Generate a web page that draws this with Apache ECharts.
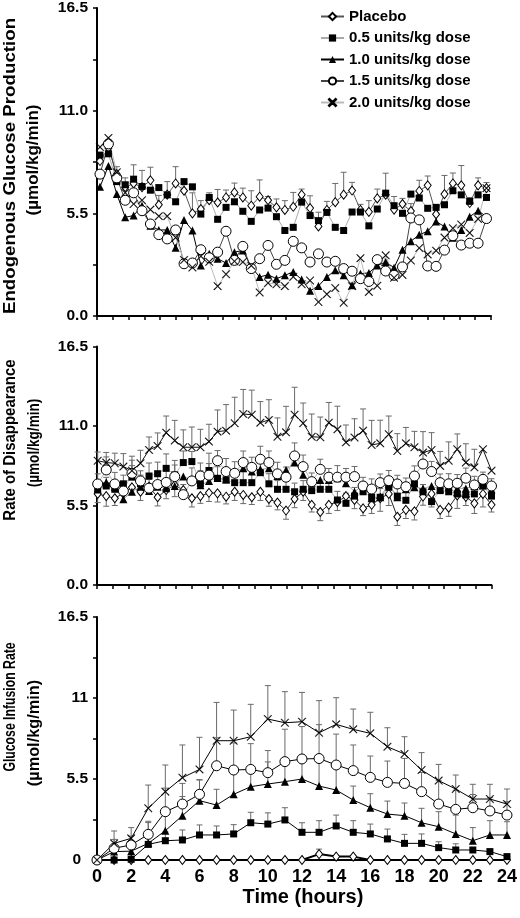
<!DOCTYPE html>
<html><head><meta charset="utf-8">
<script src="https://cdn.jsdelivr.net/npm/echarts@6/dist/echarts.min.js"></script>
<style>html,body{margin:0;padding:0;background:#fff}#c{width:520px;height:918px}</style>
</head><body><div id="c"></div>
<script>
// ---------- data ----------
const seriesNames = ['Placebo','0.5 units/kg dose','1.0 units/kg dose','1.5 units/kg dose','2.0 units/kg dose'];
const tHalf = [0,0.5,1,1.5,2,2.5,3,3.5,4,4.5,5,5.5,6,6.5,7,7.5,8,8.5,9,9.5,10,10.5,11,11.5,12,12.5,13,13.5,14,14.5,15,15.5,16,16.5,17,17.5,18,18.5,19,19.5,20,20.5,21,21.5,22,22.5,23];
const tHour = [0,1,2,3,4,5,6,7,8,9,10,11,12,13,14,15,16,17,18,19,20,21,22,23,24];
const yLabelsTop = ['0.0','5.5','11.0','16.5'];
const yLabelsBottom = ['0','5.5','11','16.5'];
const xLabelsBottom = ['0','','2','','4','','6','','8','','10','','12','','14','','16','','18','','20','','22','','24'];

// Endogenous glucose production
const egpPlacebo = [8.3,9.0,7.6,6.9,7.1,6.9,7.27,5.96,6.5,7.1,6.71,5.5,5.73,6.2,6.08,6.35,6.62,6.35,5.91,6.39,6.2,5.82,5.68,5.85,6.5,5.78,4.8,5.68,6.1,6.5,6.72,5.68,5.58,6.3,6.5,5.7,6.0,5.62,6.7,7.0,5.45,6.53,7.1,7.0,6.05,7.0,6.85];
const egpPlaceboErr = [0.3,0.3,0.4,0.5,1.0,0.9,0.7,0.5,0.7,0.9,0.5,1.1,0.45,0.4,0.7,0.4,0.5,0.5,0.8,0.9,0.2,0.45,0.5,0.77,0.3,0.66,0.76,0.46,1.0,1.2,0.44,0.3,0.6,0.5,1.15,0.7,0.3,0.4,0.57,0.5,0.3,1.0,0.56,1.06,0.3,0.4,0.3];
const egp05 = [8.62,8.69,7.20,7.03,7.33,6.94,6.74,6.88,6.49,6.12,7.20,6.92,5.46,6.35,5.18,5.82,6.12,5.61,5.07,5.68,5.78,5.32,4.58,4.75,6.10,5.38,5.11,5.55,4.75,4.58,5.57,5.57,4.83,5.73,6.58,5.91,5.50,6.53,6.32,5.77,5.82,5.96,6.71,6.49,6.14,6.49,6.35];
const egp10 = [6.92,8.04,6.53,5.29,5.38,5.91,4.84,4.61,4.61,3.65,5.14,4.58,2.71,3.33,3.07,2.84,3.42,3.51,2.63,2.09,2.21,2.0,2.18,2.36,1.95,1.35,1.61,2.09,2.45,2.18,1.65,2.27,2.31,2.71,2.89,2.59,3.55,4.01,4.35,4.54,5.06,4.79,4.19,4.61,5.32,5.64,5.32];
const egp15 = [7.6,9.22,7.4,6.2,6.6,5.64,4.93,4.36,4.13,4.61,2.80,2.84,3.55,3.12,3.42,4.54,2.98,3.73,2.54,3.07,3.78,2.77,2.98,4.0,3.65,2.89,3.33,2.89,2.93,2.54,2.4,2.0,1.85,3.02,2.41,2.18,2.63,5.25,5.15,2.68,2.66,3.53,4.3,3.8,3.9,3.9,5.22];
const egp20 = [9.05,9.54,7.7,6.6,6.0,6.2,5.7,5.35,5.35,4.2,3.0,2.6,3.2,2.9,1.6,2.24,2.93,2.89,2.7,1.26,1.77,1.70,1.60,2.1,1.70,1.9,0.75,1.17,1.5,0.71,1.6,3.1,1.29,1.62,3.25,2.05,2.2,2.97,3.64,3.3,3.5,4.2,4.7,4.9,4.45,5.2,6.85];

// Rate of disappearance
const rdPlacebo = [6.30,6.15,6.0,6.34,6.76,6.45,6.8,6.07,6.57,6.91,6.57,6.0,6.15,6.38,6.34,6.11,6.45,6.23,6.07,6.45,5.95,5.7,5.15,5.95,6.45,5.55,5.05,5.55,5.75,6.15,5.88,5.3,5.55,6.0,6.3,4.72,5.2,5.1,6.12,6.3,5.2,5.35,6.2,6.1,5.65,6.3,5.55];
const rdPlaceboErr = [0.6,0.7,0.5,0.6,0.5,0.6,0.5,0.6,0.6,0.8,0.5,0.6,0.5,0.6,0.6,0.5,0.6,0.6,0.5,0.6,0.5,0.5,0.6,0.6,0.6,0.5,0.6,0.6,0.6,0.6,0.6,0.5,0.6,0.9,0.8,0.6,0.6,0.6,0.6,0.9,0.6,0.6,0.9,0.6,0.7,0.9,0.5];
const rd05 = [6.62,6.85,6.62,7.0,7.46,7.0,7.54,7.7,8.07,7.62,8.47,8.54,7.0,7.92,7.38,7.27,7.08,7.08,7.08,7.77,7.0,6.62,6.62,6.45,6.62,6.53,6.62,6.62,5.88,5.65,6.15,6.45,6.07,6.07,6.76,6.15,5.86,7.0,6.45,5.77,6.53,6.45,6.3,6.23,6.3,6.85,6.15];
const rd05Err = [0.5,0.6,0.5,0.6,0.8,0.6,0.9,0.8,1.0,1.0,0.8,0.7,0.9,1.2,0.8,0.7,0.7,0.8,0.6,0.8,0.7,0.6,0.6,0.6,0.6,0.5,0.5,0.6,0.6,0.7,0.6,0.5,0.6,0.6,0.5,0.6,0.6,0.7,0.5,0.6,0.6,0.5,0.5,0.5,0.5,0.5,0.5];
const rd10 = [6.6,7.1,6.8,5.93,6.45,6.8,6.5,6.8,6.7,6.85,7.5,7.3,6.9,7.2,7.4,7.3,7.85,8.07,7.85,8.0,8.07,7.54,7.96,8.47,7.62,7.08,7.27,7.27,7.38,7.04,6.45,6.91,6.0,6.07,7.0,6.07,6.62,6.76,6.68,6.85,6.62,6.8,6.68,6.68,6.85,6.9,6.62];
const rd15 = [6.99,7.96,6.99,6.5,7.73,7.2,6.7,6.95,7.1,7.5,6.25,7.2,7.54,7.6,8.6,7.85,7.73,8.47,8.14,8.7,8.47,7.69,7.46,8.93,8.19,7.15,8.0,7.46,7.46,7.46,7.5,6.85,6.64,7.08,7.22,6.99,6.8,7.54,8.37,7.85,7.08,7.0,7.04,7.39,6.92,7.31,6.85];
const rd15Err = [0.7,0.9,0.8,0.6,0.9,0.7,0.6,0.8,0.9,0.8,0.7,0.9,0.9,0.8,0.7,0.9,0.8,0.8,0.7,0.9,0.8,0.8,0.7,0.9,0.8,0.6,0.7,0.6,0.8,0.6,0.7,0.6,0.7,0.6,0.7,0.6,0.6,0.7,0.8,0.7,0.6,0.7,0.6,0.7,0.6,0.5,0.5];
const rd20 = [8.60,8.47,8.42,8.19,7.91,8.42,9.34,9.62,10.54,9.99,9.53,9.53,9.53,9.92,10.61,10.68,11.19,11.83,11.78,11.23,11.42,10.26,10.56,11.78,11.19,10.26,10.22,11.23,10.77,9.87,10.2,10.68,9.69,9.80,10.43,9.27,9.80,9.53,9.16,9.34,8.24,8.60,9.39,8.47,8.14,9.39,7.91];
const rd20Err = [0.6,0.7,0.7,0.9,1.0,0.9,0.9,0.9,1.15,1.4,1.2,1.4,1.24,1.2,1.5,1.8,1.8,1.7,1.7,1.46,1.4,1.3,1.8,1.9,1.4,1.57,1.4,1.4,1.6,1.2,1.3,1.5,1.7,1.6,1.26,1.2,1.1,1.1,1.45,1.2,1.0,1.3,1.06,1.3,1.25,0,0];

// Glucose infusion rate
const girPlacebo = [0,0,0,0,0,0,0,0,0,0,0,0,0,0.4,0.23,0.23,0,0,0,0,0,0,0,0,0];
const girPlaceboErr = [0,0,0,0,0,0,0,0,0,0,0,0,0,0.34,0,0,0,0,0,0,0,0,0,0,0];
const gir05 = [0,0,0.05,1.06,1.31,1.36,1.70,1.70,1.77,2.53,2.44,2.72,1.88,1.88,2.31,1.88,1.77,1.43,1.13,1.13,0.84,0.68,0.68,0.57,0.23];
const gir05Err = [0,0,0,0.5,0.6,0.68,0.68,0.61,0.63,0.71,0.76,0.83,0.65,0.79,0.74,0.79,0.67,0.67,0.61,0.64,0.4,0.42,0,0,0];
const gir10 = [0,0.57,0.6,1.13,1.99,3.01,4.03,3.73,4.46,4.98,5.16,5.32,5.50,5.02,4.75,4.07,3.55,3.12,3.01,2.53,2.26,1.77,1.31,1.70,1.70];
const gir10Err = [0,0.4,0.4,1.5,1.5,1.3,1.4,1.07,1.4,1.3,1.5,1.5,1.5,1.6,1.6,0.95,0.95,0.88,0.86,0.98,1.02,1.28,0.89,0.97,0.9];
const gir15 = [0,0.8,1.02,1.74,3.28,3.80,4.46,6.40,6.11,6.15,5.93,6.68,6.86,6.89,6.45,6.07,5.61,5.27,5.20,4.64,3.80,3.44,3.55,3.33,3.05];
const gir15Err = [0,0.6,0.6,0.8,1.6,1.4,1.0,1.9,1.84,1.75,1.5,2.2,2.2,2.3,2.1,1.74,1.45,1.45,1.7,1.3,1.6,1.3,0.9,0.9,0.9];
const gir20 = [0,1.13,1.47,3.51,4.64,5.59,6.15,8.10,8.10,8.37,9.57,9.32,9.39,8.64,9.21,8.87,8.60,7.69,7.20,6.11,5.39,4.82,4.14,4.14,3.80];
const gir20Err = [0,0.84,0.73,1.58,1.81,2.22,2.18,2.6,2.08,2.2,2.27,2.11,1.99,2.18,1.81,1.38,1.43,1.29,1.17,1.18,1.1,0.95,1.0,1.0,1.02];

// ---------- chart ----------
const FONT = '"Liberation Sans", Arial, Helvetica, sans-serif';
const XSYM = 'path://M0,0.7L0.7,0L5,4.3L9.3,0L10,0.7L5.7,5L10,9.3L9.3,10L5,5.7L0.7,10L0,9.3L4.3,5Z';
const symbols = ['diamond','rect','triangle','circle',XSYM];
const symSizes = [[7,9],7,8,10,8];
const symFill = ['#fff','#000','#000','#fff','#000'];
const symBorder = [1,0,0,1,0.3];

function lineSeries(k, xs, ys, xi, yi, color, width) {
  return {
    type:'line', name:seriesNames[k], xAxisIndex:xi, yAxisIndex:yi,
    data: xs.map((x,i)=>[x, ys[i]]),
    symbol:symbols[k], symbolSize:symSizes[k], showAllSymbol:true,
    lineStyle:{color:color, width:width},
    itemStyle:{color:symFill[k], borderColor:'#000', borderWidth:symBorder[k]},
    emphasis:{disabled:true}, z:3, animation:false
  };
}
function errSeries(xs, ys, es, xi, yi, dir) {
  const data = [];
  xs.forEach((x,i)=>{ if (es[i] > 0) data.push([x, ys[i], es[i]]); });
  return {
    type:'custom', xAxisIndex:xi, yAxisIndex:yi, data:data, z:2, silent:true, animation:false,
    encode:{x:0, y:1},
    renderItem:function(params, api){
      const x = api.value(0), y = api.value(1), e = api.value(2);
      const p0 = api.coord([x, y]);
      const p1 = api.coord([x, y + dir*e]);
      const st = {stroke:'#6a6a6a', lineWidth:1};
      return {type:'group', children:[
        {type:'line', shape:{x1:p0[0], y1:p0[1], x2:p1[0], y2:p1[1]}, style:st},
        {type:'line', shape:{x1:p1[0]-3, y1:p1[1], x2:p1[0]+3, y2:p1[1]}, style:st}
      ]};
    }
  };
}
function yLabelFmt(labels){
  return function(v){
    const idx = Math.round(v/5.5);
    if (Math.abs(v - idx*5.5) > 1e-6) return '';
    const s = labels[idx];
    return s === '0' ? '{z|0}' : s;
  };
}
const labelFont = {fontFamily:FONT, fontWeight:'bold', color:'#000'};
function tickAxis(grid){
  return {gridIndex:grid, type:'value', min:0, max:25, interval:1,
    axisLine:{lineStyle:{color:'#000', width:2}},
    axisTick:{length:4, lineStyle:{color:'#000', width:1.5}},
    axisLabel:{show:false}, splitLine:{show:false}};
}
function yAxis(grid, interval, labels){
  return {gridIndex:grid, type:'value', min:0, max:16.5, interval:interval,
    axisLine:{show:true, lineStyle:{color:'#000', width:2}},
    axisTick:{show:true, length:4, lineStyle:{color:'#000', width:1.5}},
    splitLine:{show:false},
    axisLabel:Object.assign({fontSize:15.5, margin:9, formatter:yLabelFmt(labels),
      rich:{z:{fontFamily:FONT, fontWeight:'bold', fontSize:15.5, color:'#000', padding:[0,7,0,0]}}}, labelFont)};
}

const p1Colors = ['#555','#aaa','#000','#444','#bbb'];
const p2Colors = ['#222','#bbb','#aaa','#bbb','#111'];
const p3Colors = ['#000','#000','#000','#000','#000'];

const series = [];
[egpPlacebo, egp05, egp10, egp15, egp20].forEach((d,k)=>series.push(lineSeries(k, tHalf, d, 1, 0, p1Colors[k], 1)));
[rdPlacebo, rd05, rd10, rd15, rd20].forEach((d,k)=>series.push(lineSeries(k, tHalf, d, 3, 1, p2Colors[k], 1)));
[girPlacebo, gir05, gir10, gir15, gir20].forEach((d,k)=>series.push(lineSeries(k, tHour, d, 4, 2, p3Colors[k], k===0?2:1)));
series.push(errSeries(tHalf, egpPlacebo, egpPlaceboErr, 1, 0, 1));
series.push(errSeries(tHalf, rdPlacebo, rdPlaceboErr, 3, 1, -1));
series.push(errSeries(tHalf, rd05, rd05Err, 3, 1, 1));
series.push(errSeries(tHalf, rd15, rd15Err, 3, 1, 1));
series.push(errSeries(tHalf, rd20, rd20Err, 3, 1, 1));
series.push(errSeries(tHour, girPlacebo, girPlaceboErr, 4, 2, 1));
series.push(errSeries(tHour, gir05, gir05Err, 4, 2, 1));
series.push(errSeries(tHour, gir10, gir10Err, 4, 2, 1));
series.push(errSeries(tHour, gir15, gir15Err, 4, 2, 1));
series.push(errSeries(tHour, gir20, gir20Err, 4, 2, 1));

function vText(text, x, y, size, sx){
  return {type:'text', x:x, y:y, rotation:Math.PI/2, scaleX:sx, silent:true,
    style:{text:text, font:'bold '+size+'px '+FONT, fill:'#000', align:'center', verticalAlign:'middle', textAlign:'center', textVerticalAlign:'middle'}};
}

const chart = echarts.init(document.getElementById('c'), null, {renderer:'canvas', devicePixelRatio:1});
chart.setOption({
  animation:false,
  backgroundColor:'#fff',
  grid:[
    {left:97, top:6, width:394, height:310},
    {left:97, top:346.5, width:394.5, height:238.5},
    {left:97, top:617, width:410, height:243}
  ],
  xAxis:[
    tickAxis(0),
    {gridIndex:0, type:'value', min:-0.179, max:23.268, show:false},
    tickAxis(1),
    {gridIndex:1, type:'value', min:-0.04, max:23, show:false},
    {gridIndex:2, type:'value', min:0, max:24, interval:1,
      axisLine:{lineStyle:{color:'#000', width:2}},
      axisTick:{show:false}, splitLine:{show:false},
      axisLabel:Object.assign({fontSize:18, margin:8, formatter:function(v){return xLabelsBottom[Math.round(v)];}}, labelFont)}
  ],
  yAxis:[ yAxis(0, 2.75, yLabelsTop), yAxis(1, 5.5, yLabelsTop), yAxis(2, 2.75, yLabelsBottom) ],
  legend:{data:seriesNames, orient:'vertical', left:320, top:9, itemWidth:23, itemHeight:9, itemGap:6.5,
    padding:0, selectedMode:false,
    textStyle:{fontFamily:FONT, fontWeight:'bold', fontSize:15, color:'#000'}},
  graphic:[
    vText('Endogenous Glucose Production', 10, 166, 17, 1.1),
    vText('(\u00b5mol/kg/min)', 33, 160, 17, 1.0),
    vText('Rate of Disappearance', 10, 440, 17, 0.88),
    vText('(\u00b5mol/kg/min)', 34, 443, 17, 0.8),
    vText('Glucose Infusion Rate', 10, 707, 17, 0.72),
    vText('(\u00b5mol/kg/min)', 34, 733, 17, 0.96),
    {type:'text', x:303, y:897, silent:true, style:{text:'Time (hours)', font:'bold 20px '+FONT, fill:'#000', align:'center', verticalAlign:'middle', textAlign:'center', textVerticalAlign:'middle'}}
  ],
  series:series
});
</script></body></html>
